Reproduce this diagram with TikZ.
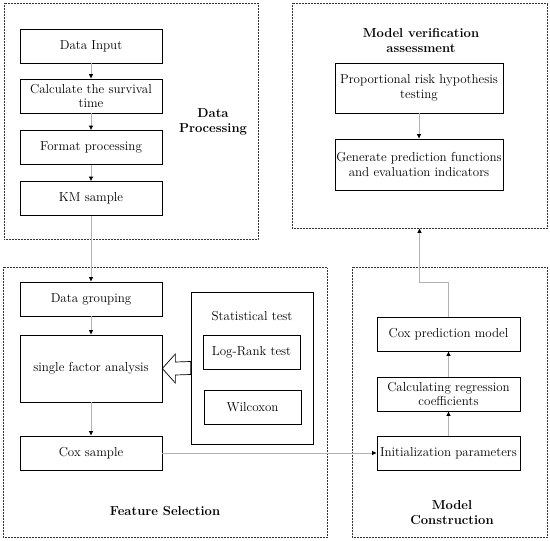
\documentclass[tikz,border=0pt]{standalone}
\usetikzlibrary{arrows.meta,calc}
\begin{document}
\begin{tikzpicture}[x=1pt, y=-1pt,
  font=\fontsize{13}{14.5}\selectfont,
  box/.style={draw, line width=0.7pt, minimum width=142pt, minimum height=34pt, align=center, inner sep=1pt},
  area/.style={draw=black!80, densely dotted, line width=0.5pt, inner sep=0pt},
  title/.style={font=\fontsize{13}{14.5}\selectfont\bfseries, align=center},
  flow/.style={draw=black!30, line width=0.7pt, -{Latex[black, length=4.5pt, width=4.5pt]}}]
    \useasboundingbox (0,0) rectangle (550,541);

    % dotted areas
    \node[area, minimum width=254pt, minimum height=236pt] (dp) at (131,121) {};
    \node[area, minimum width=255pt, minimum height=225pt] (mv) at (419.5,115.5) {};
    \node[area, minimum width=324pt, minimum height=270pt] (fs) at (165,402) {};
    \node[area, minimum width=195pt, minimum height=270pt] (mc) at (449.5,402) {};

    \node[title] (dpt) at (213,122) {Data\\Processing};
    \node[title] (mvt) at (421,40.5) {Model verification\\assessment};
    \node[title] (fst) at (165,511) {Feature Selection};
    \node[title] (mct) at (452,512.5) {Model\\Construction};

    % data processing
    \node[box] (input) at (91,46) {Data Input};
    \node[box] (surv) at (91,96) {Calculate the survival\\time};
    \node[box] (format) at (91,147.5) {Format processing};
    \node[box] (km) at (91,198.5) {KM sample};

    % feature selection
    \node[box] (group) at (91,299) {Data grouping};
    \node[box, minimum height=67pt] (sfa) at (91,368.5) {single factor analysis};
    \node[box] (cox) at (91,453) {Cox sample};
    \node[box, minimum width=122pt, minimum height=152pt] (stat) at (252,368) {};
    \node (statt) at (252,316) {Statistical test};
    \node[box, minimum width=97pt] (logrank) at (251.5,352) {Log-Rank test};
    \node[box, minimum width=97pt] (wilc) at (252.5,407) {Wilcoxon};

    % model construction
    \node[box, minimum width=143pt] (pred) at (448.5,334) {Cox prediction model};
    \node[box, minimum width=143pt] (coef) at (448.5,394) {Calculating regression\\coefficients};
    \node[box, minimum width=143pt] (init) at (448.5,453) {Initialization parameters};

    % model verification
    \node[box, minimum width=168pt, minimum height=50pt] (ph) at (419,88) {Proportional risk hypothesis\\testing};
    \node[box, minimum width=168pt, minimum height=51pt] (gen) at (419,164.5) {Generate prediction functions\\and evaluation indicators};

    \draw[flow] (input) -- (surv);
    \draw[flow] (surv) -- (format);
    \draw[flow] (format) -- (km);
    \draw[flow] (km) -- (group);
    \draw[flow] (group) -- (sfa);
    \draw[flow] (sfa) -- (cox);
    \draw[flow] (cox) -- (init);
    \draw[flow] (init) -- (coef);
    \draw[flow] (coef) -- (pred);
    \draw[flow] (pred.north) -- ++(0,-34) -| (mv.south);
    \draw[flow] (ph) -- (gen);

    % hollow arrow
    \draw[line width=0.7pt, fill=white] (sfa.east) -- ++(13,-14.5) -- ++(0,8)
        -- ($(stat.west)+(0,-6.5)$) -- ($(stat.west)+(0,6.5)$)
        -- ($(sfa.east)+(13,6.5)$) -- ++(0,8) -- cycle;
\end{tikzpicture}
\end{document}
